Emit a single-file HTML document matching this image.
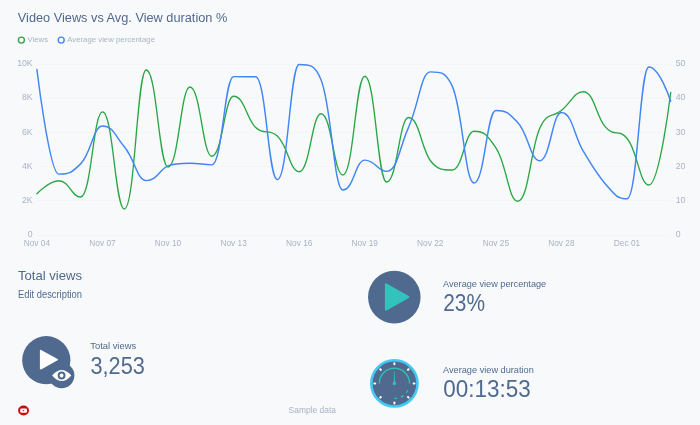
<!DOCTYPE html>
<html><head><meta charset="utf-8"><title>Video Views</title>
<style>
html,body{margin:0;padding:0}
body{width:700px;height:425px;background:#f8f9fb;position:relative;overflow:hidden;font-family:"Liberation Sans",sans-serif;color:#4f6a8e}
svg{position:absolute;left:0;top:0}
svg text{font-family:"Liberation Sans",sans-serif;fill:#a9b3c4}
svg .d text{fill:#4f6a8e}
</style></head><body>
<svg width="700" height="425" viewBox="0 0 700 425">
<rect x="37" y="64" width="634" height="1" fill="#f3f5f7"/><rect x="37" y="98" width="634" height="1" fill="#f3f5f7"/><rect x="37" y="132" width="634" height="1" fill="#f3f5f7"/><rect x="37" y="166" width="634" height="1" fill="#f3f5f7"/><rect x="37" y="200" width="634" height="1" fill="#f3f5f7"/><rect x="37" y="235" width="634" height="1" fill="#f3f5f7"/>
<g font-size="8.7"><text x="32.6" y="66.2" text-anchor="end">10K</text><text x="32.6" y="100.4" text-anchor="end">8K</text><text x="32.6" y="134.6" text-anchor="end">6K</text><text x="32.6" y="168.8" text-anchor="end">4K</text><text x="32.6" y="203.0" text-anchor="end">2K</text><text x="32.6" y="237.2" text-anchor="end">0</text></g><g font-size="8.7"><text x="675.7" y="66.2">50</text><text x="675.7" y="100.4">40</text><text x="675.7" y="134.6">30</text><text x="675.7" y="168.8">20</text><text x="675.7" y="203.0">10</text><text x="675.7" y="237.2">0</text></g><g font-size="8.4"><text x="23.7" y="246.3" textLength="26.4" lengthAdjust="spacingAndGlyphs">Nov 04</text><text x="89.3" y="246.3" textLength="26.4" lengthAdjust="spacingAndGlyphs">Nov 07</text><text x="154.8" y="246.3" textLength="26.4" lengthAdjust="spacingAndGlyphs">Nov 10</text><text x="220.4" y="246.3" textLength="26.4" lengthAdjust="spacingAndGlyphs">Nov 13</text><text x="286.0" y="246.3" textLength="26.4" lengthAdjust="spacingAndGlyphs">Nov 16</text><text x="351.5" y="246.3" textLength="26.4" lengthAdjust="spacingAndGlyphs">Nov 19</text><text x="417.1" y="246.3" textLength="26.4" lengthAdjust="spacingAndGlyphs">Nov 22</text><text x="482.7" y="246.3" textLength="26.4" lengthAdjust="spacingAndGlyphs">Nov 25</text><text x="548.2" y="246.3" textLength="26.4" lengthAdjust="spacingAndGlyphs">Nov 28</text><text x="613.8" y="246.3" textLength="26.4" lengthAdjust="spacingAndGlyphs">Dec 01</text></g>
<path d="M36.90 193.75 C36.90 193.75 49.58 180.76 58.76 180.76 C69.46 180.76 71.43 197.00 80.61 197.00 C91.32 197.00 93.29 111.88 102.47 111.88 C113.17 111.88 115.14 209.01 124.32 209.01 C135.03 209.01 137.00 69.99 146.18 69.99 C156.88 69.99 158.85 167.01 168.03 167.01 C178.74 167.01 180.71 87.00 189.89 87.00 C200.60 87.00 202.56 156.25 211.74 156.25 C222.45 156.25 224.42 96.25 233.60 96.25 C244.31 96.25 246.27 117.99 255.45 127.27 C264.08 135.99 268.13 127.79 277.31 135.99 C288.02 145.56 289.98 171.73 299.16 171.73 C309.87 171.73 311.84 113.76 321.02 113.76 C331.73 113.76 333.69 175.00 342.87 175.00 C353.58 175.00 355.55 76.24 364.73 76.24 C375.44 76.24 377.40 181.99 386.58 181.99 C397.29 181.99 399.26 117.51 408.44 117.51 C419.15 117.51 421.11 148.06 430.29 160.50 C437.31 170.00 442.97 170.00 452.15 170.00 C462.86 170.00 464.82 131.25 474.00 131.25 C484.71 131.25 486.68 134.64 495.86 147.79 C506.57 163.13 508.53 201.24 517.71 201.24 C528.42 201.24 530.39 150.09 539.57 128.76 C547.42 110.51 552.24 118.26 561.42 110.51 C572.13 101.47 574.10 91.75 583.28 91.75 C593.99 91.75 595.96 115.92 605.13 126.67 C615.06 138.30 617.81 127.52 626.99 138.30 C637.70 150.87 639.67 185.00 648.84 185.00 C659.55 185.00 670.70 92.51 670.70 92.51" fill="none" stroke="#2aa745" stroke-width="1.35" stroke-linecap="round" stroke-linejoin="round"/>
<path d="M36.90 69.47 C36.90 69.47 49.58 174.12 58.76 174.12 C69.46 174.12 71.43 172.80 80.61 163.86 C91.32 153.44 93.29 126.07 102.47 126.07 C113.17 126.07 115.14 135.86 124.32 146.76 C135.03 159.48 137.00 180.62 146.18 180.62 C156.88 180.62 158.85 170.08 168.03 165.92 C174.06 163.18 180.71 163.18 189.89 163.18 C200.60 163.18 202.56 164.89 211.74 164.89 C222.45 164.89 224.42 76.65 233.60 76.65 C244.31 76.65 246.27 76.65 255.45 76.65 C266.16 76.65 268.13 179.60 277.31 179.60 C288.02 179.60 289.98 64.51 299.16 64.51 C309.87 64.51 314.77 64.51 321.02 79.73 C331.73 105.82 333.69 189.99 342.87 189.99 C353.58 189.99 355.55 160.10 364.73 160.10 C375.44 160.10 377.40 171.39 386.58 171.39 C397.29 171.39 399.26 148.01 408.44 127.61 C419.15 103.82 421.11 71.87 430.29 71.87 C441.00 71.87 445.66 71.87 452.15 85.89 C462.86 109.05 464.82 183.02 474.00 183.02 C484.71 183.02 486.68 110.51 495.86 110.51 C506.57 110.51 508.53 113.03 517.71 122.48 C528.42 133.51 530.39 160.79 539.57 160.79 C550.28 160.79 552.24 112.56 561.42 112.56 C572.13 112.56 574.10 136.01 583.28 151.21 C593.99 168.94 595.96 172.98 605.13 183.70 C615.84 196.20 617.81 198.75 626.99 198.75 C637.70 198.75 639.67 67.08 648.84 67.08 C659.55 67.08 670.70 101.28 670.70 101.28" fill="none" stroke="#4285f4" stroke-width="1.45" stroke-linecap="round" stroke-linejoin="round"/>
<circle cx="21.4" cy="40.1" r="3" fill="#fff" stroke="#2aa745" stroke-width="1.4"/>
<circle cx="61.2" cy="40.1" r="3" fill="#fff" stroke="#4285f4" stroke-width="1.4"/>
<!-- icon: total views -->
<circle cx="46.3" cy="360.2" r="24.1" fill="#4f6a8e"/>
<circle cx="61.6" cy="375.5" r="12.8" fill="#4f6a8e"/>
<path d="M40.7 350.6 L57.2 359.65 L40.7 368.7 Z" fill="#fff" stroke="#fff" stroke-width="1.6" stroke-linejoin="round"/>
<path d="M52.1 375.6 Q61.7 364.6 71.3 375.6 Q61.7 386.6 52.1 375.6 Z" fill="#fff"/>
<circle cx="61.6" cy="375.5" r="3.9" fill="#4f6a8e"/>
<circle cx="61.6" cy="375.5" r="1.9" fill="#fff"/>
<!-- icon: avg pct -->
<circle cx="394.3" cy="297.1" r="26.3" fill="#4f6a8e"/>
<path d="M386 284.4 L408.2 297 L386 309.6 Z" fill="#33c2bc" stroke="#33c2bc" stroke-width="2.2" stroke-linejoin="round"/>
<!-- icon: duration -->
<circle cx="394.4" cy="383.4" r="23.1" fill="#4f6a8e" stroke="#43c9f6" stroke-width="2.6"/>
<g stroke="#fff" stroke-width="2" stroke-linecap="round">
<line x1="394.4" y1="363.3" x2="394.4" y2="364.2"/>
<line x1="394.4" y1="363.3" x2="394.4" y2="364.2" transform="rotate(45 394.4 383.4)"/>
<line x1="394.4" y1="363.3" x2="394.4" y2="364.2" transform="rotate(90 394.4 383.4)"/>
<line x1="394.4" y1="363.3" x2="394.4" y2="364.2" transform="rotate(135 394.4 383.4)"/>
<line x1="394.4" y1="363.3" x2="394.4" y2="364.2" transform="rotate(180 394.4 383.4)"/>
<line x1="394.4" y1="363.3" x2="394.4" y2="364.2" transform="rotate(225 394.4 383.4)"/>
<line x1="394.4" y1="363.3" x2="394.4" y2="364.2" transform="rotate(270 394.4 383.4)"/>
<line x1="394.4" y1="363.3" x2="394.4" y2="364.2" transform="rotate(315 394.4 383.4)"/>
</g>
<path d="M379.3 383.4 A15.1 15.1 0 0 1 409.5 383.4" fill="none" stroke="#2fbfb4" stroke-width="1.4"/>
<path d="M407.85 390.26 A15.1 15.1 0 0 1 394.3 398.5" fill="none" stroke="#2fbfb4" stroke-width="1.3" stroke-dasharray="3 3.8"/>
<path d="M394.4 370.8 L395 382 L393.8 382 Z" fill="#2fbfb4" stroke="#2fbfb4" stroke-width="0.3"/>
<circle cx="394.4" cy="383.4" r="1.8" fill="#2fbfb4"/>
<!-- youtube icon -->
<ellipse cx="23.55" cy="410.5" rx="5.45" ry="5" fill="#cb0a0a"/>
<rect x="20.2" y="408.6" width="6.8" height="4.1" rx="1.3" fill="#fff"/>
<path d="M22.8 409.8 L24.6 410.7 L22.8 411.6 Z" fill="#cb0a0a"/>

<g class="d">
<text x="17.8" y="21.7" font-size="13.5" textLength="209.5" lengthAdjust="spacingAndGlyphs">Video Views vs Avg. View duration %</text>
<text x="18" y="280.2" font-size="13" textLength="64" lengthAdjust="spacingAndGlyphs">Total views</text>
<text x="18" y="298" font-size="10" textLength="64" lengthAdjust="spacingAndGlyphs">Edit description</text>
<text x="90.3" y="349.1" font-size="9.8" textLength="45.8" lengthAdjust="spacingAndGlyphs">Total views</text>
<text x="90.5" y="373.6" font-size="23.4" textLength="54.3" lengthAdjust="spacingAndGlyphs">3,253</text>
<text x="443" y="287" font-size="9.8" textLength="103.2" lengthAdjust="spacingAndGlyphs">Average view percentage</text>
<text x="443.2" y="310.75" font-size="23.4" textLength="41.8" lengthAdjust="spacingAndGlyphs">23%</text>
<text x="443" y="373" font-size="9.8" textLength="90.8" lengthAdjust="spacingAndGlyphs">Average view duration</text>
<text x="443.2" y="396.75" font-size="23.4" textLength="87.5" lengthAdjust="spacingAndGlyphs">00:13:53</text>
</g>
<g class="l">
<text x="27.6" y="42.4" font-size="7.8" textLength="20.4" lengthAdjust="spacingAndGlyphs">Views</text>
<text x="67.2" y="42.4" font-size="7.8" textLength="87.8" lengthAdjust="spacingAndGlyphs">Average view percentage</text>
<text x="288.6" y="412.9" font-size="9" textLength="47.4" lengthAdjust="spacingAndGlyphs">Sample data</text>
</g>
</svg>
</body></html>
